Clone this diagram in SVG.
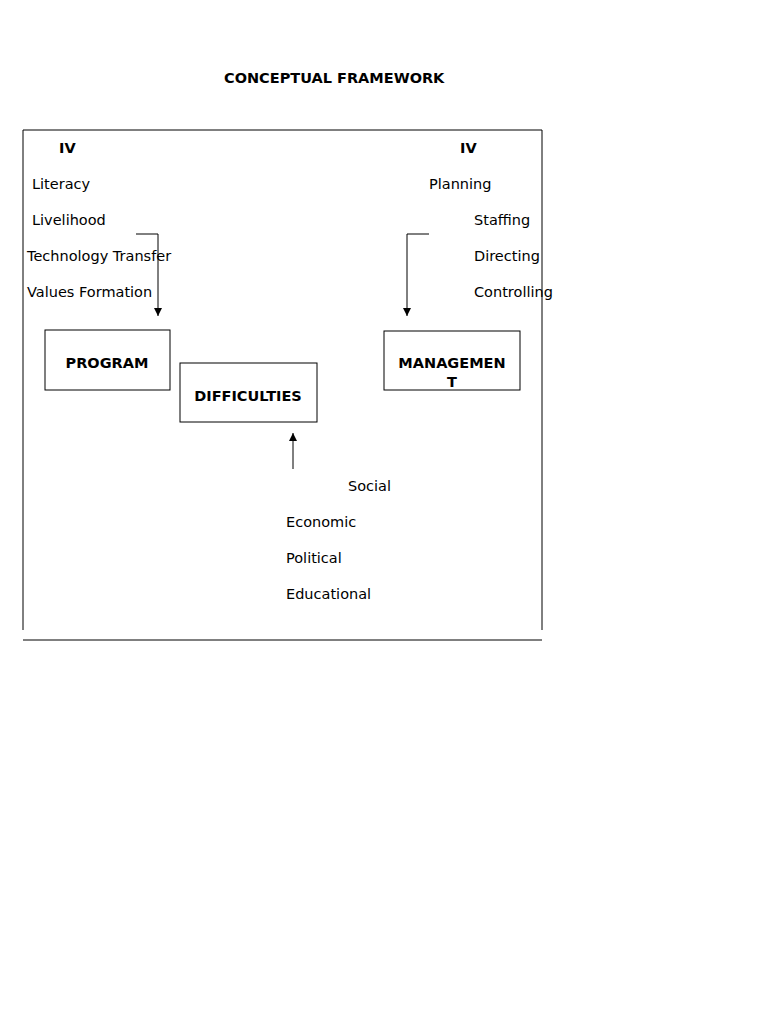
<svg xmlns="http://www.w3.org/2000/svg" width="768" height="1024" viewBox="0 0 768 1024">
<style>
text{font-family:"DejaVu Sans",sans-serif;font-size:14.5px;fill:#000}
.b{font-weight:bold}
.box{fill:#fff;stroke:#000;stroke-width:1}
.ln{stroke:#000;stroke-width:1;fill:none}
</style>
<defs><marker id="ah" markerWidth="8" markerHeight="8" refX="4" refY="8" orient="auto-start-reverse" markerUnits="userSpaceOnUse"><path d="M1,0 L7,0 L4,8 Z" fill="#000" transform="rotate(0)"/></marker>
<marker id="a" viewBox="0 0 8 10" refX="8" refY="5" markerWidth="8" markerHeight="10" orient="auto" markerUnits="userSpaceOnUse"><path d="M0,1 L8,5 L0,9 Z" fill="#000"/></marker></defs>
<rect width="768" height="1024" fill="#fff"/>
<text class="b" x="224" y="83">CONCEPTUAL FRAMEWORK</text>
<g id="frame" class="ln"><path d="M23,130 H542 M23,130 V630 M542,130 V630 M23,640 H542"/></g>
<g id="left-list"><text class="b" x="59" y="153">IV</text><text x="32" y="189">Literacy</text><text x="32" y="225">Livelihood</text><text x="27" y="261">Technology Transfer</text><text x="27" y="297">Values Formation</text></g>
<g id="right-list"><text class="b" x="460" y="153">IV</text><text x="429" y="189">Planning</text><text x="474" y="225">Staffing</text><text x="474" y="261">Directing</text><text x="474" y="297">Controlling</text></g>
<g id="program"><rect class="box" x="45" y="330" width="125" height="60"/><text class="b" x="107" y="368" text-anchor="middle">PROGRAM</text></g>
<g id="difficulties"><rect class="box" x="180" y="363" width="137" height="59"/><text class="b" x="248" y="401" text-anchor="middle">DIFFICULTIES</text></g>
<g id="management"><rect class="box" x="384" y="331" width="136" height="59"/><text class="b" x="452" y="368" text-anchor="middle">MANAGEMEN</text><text class="b" x="452" y="387" text-anchor="middle">T</text></g>
<g id="bottom-list"><text x="348" y="491">Social</text><text x="286" y="527">Economic</text><text x="286" y="563">Political</text><text x="286" y="599">Educational</text></g>
<g id="connectors" class="ln">
<path d="M136,234 H158 V316" marker-end="url(#a)"/>
<path d="M429,234 H407 V316" marker-end="url(#a)"/>
<path d="M293,469 V433" marker-end="url(#a)"/>
</g>
</svg>
